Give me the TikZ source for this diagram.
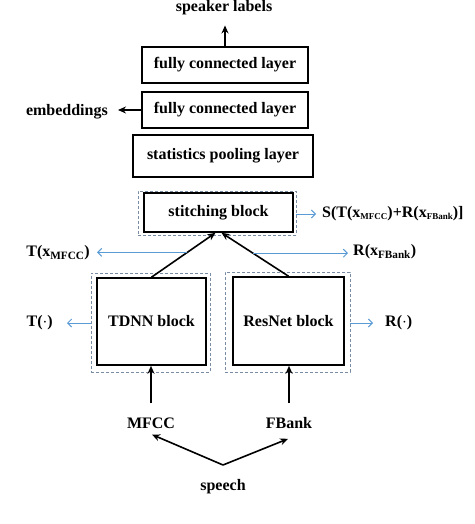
\documentclass[tikz,border=0pt]{standalone}
\usepackage{fontspec}
\setmainfont{Liberation Serif}
\usetikzlibrary{arrows.meta,calc}
\definecolor{arrowblue}{HTML}{5B9BD5}
\definecolor{dashgray}{HTML}{7A8CA3}
\newcommand{\smsub}[1]{\raisebox{-1.5pt}{\fontsize{9}{10}\selectfont #1}}
\begin{document}
\begin{tikzpicture}[x=1pt,y=-1pt,
  font=\fontsize{16}{19}\selectfont\bfseries,
  solidbox/.style={draw,line width=1.6pt,inner sep=0pt},
  dashbox/.style={draw=dashgray,line width=0.8pt,dash pattern=on 3pt off 2pt,inner sep=0pt},
  blk/.style={line width=1.6pt,-{Stealth[length=8pt,width=7pt]}},
  blu/.style={draw=arrowblue,line width=1pt,-{Straight Barb[length=4pt,width=8pt]}},
  lbl/.style={inner sep=0pt}]
\useasboundingbox (0,0) rectangle (474,524);

% top part
\node[lbl] (spk) at (224,8) {speaker labels};
\node[solidbox,minimum width=166pt,minimum height=36pt] (fc1) at (225,65) {fully connected layer};
\node[solidbox,minimum width=166pt,minimum height=36pt] (fc2) at (225,110) {fully connected layer};
\node[lbl,anchor=east] (emb) at (108,112) {embeddings};
\node[solidbox,minimum width=180pt,minimum height=42pt] (stats) at (223,156) {statistics pooling layer};

% stitching block
\node[dashbox,minimum width=158pt,minimum height=44pt] (stitchd) at (217,213) {};
\node[solidbox,minimum width=149pt,minimum height=39pt] (stitch) at (218.5,212.5) {stitching block};
\node[lbl,anchor=west] (sx) at (322,214) {S(T(x\smsub{MFCC})+R(x\smsub{FBank})]};

% TDNN / ResNet blocks
\node[dashbox,minimum width=119pt,minimum height=99pt] (tdnnd) at (150.5,322.5) {};
\node[solidbox,minimum width=109pt,minimum height=87pt] (tdnn) at (151.5,321.5) {TDNN block};
\node[dashbox,minimum width=125pt,minimum height=100pt] (resd) at (287.5,322) {};
\node[solidbox,minimum width=111pt,minimum height=88pt] (res) at (288.5,321) {ResNet block};

\node[lbl,anchor=east] (tx) at (90,253) {T(x\textsubscript{MFCC})};
\node[lbl,anchor=west] (rx) at (353,252) {R(x\textsubscript{FBank})};
\node[lbl,anchor=east] (tdot) at (53,323) {T($\cdot$)};
\node[lbl,anchor=west] (rdot) at (385,323) {R($\cdot$)};

% inputs
\node[lbl] (mfcc) at (151,423) {MFCC};
\node[lbl] (fbank) at (289,423) {FBank};
\node[lbl] (speech) at (223,487) {speech};
\coordinate (v) at (223,465);

% black connectors
\draw[blk,shorten >=10pt] (fc1.north) -- (fc1.north |- spk.south);
\draw[blk,shorten >=10pt] (fc2.west) -- (fc2.west -| emb.east);
\draw[blk] (tdnn.north) -- ([xshift=-3pt]stitch.south) coordinate[pos=0.56] (tm);
\draw[blk] (res.north) -- ([xshift=3pt]stitch.south) coordinate[pos=0.53] (rm);
\draw[blk,shorten <=14pt] (mfcc.north) -- (mfcc.north |- tdnn.south);
\draw[blk,shorten <=14pt] (fbank.north) -- (fbank.north |- res.south);
\draw[blk] (v) -- ($(mfcc.south)+(1,6)$);
\draw[blk] (v) -- ($(fbank.south)+(-1,10)$);

% blue connectors
\draw[blu,shorten >=6pt] (stitchd.east |- sx.west) -- (sx.west);
\draw[blu,shorten >=7pt] (tm) -- (tm -| tx.east);
\draw[blu,shorten >=5pt] (rm) -- (rm -| rx.west);
\draw[blu,shorten >=14pt] (tdnnd.west |- tdot.east) -- (tdot.east);
\draw[blu,shorten >=12pt] (resd.east |- rdot.west) -- (rdot.west);
\end{tikzpicture}
\end{document}
